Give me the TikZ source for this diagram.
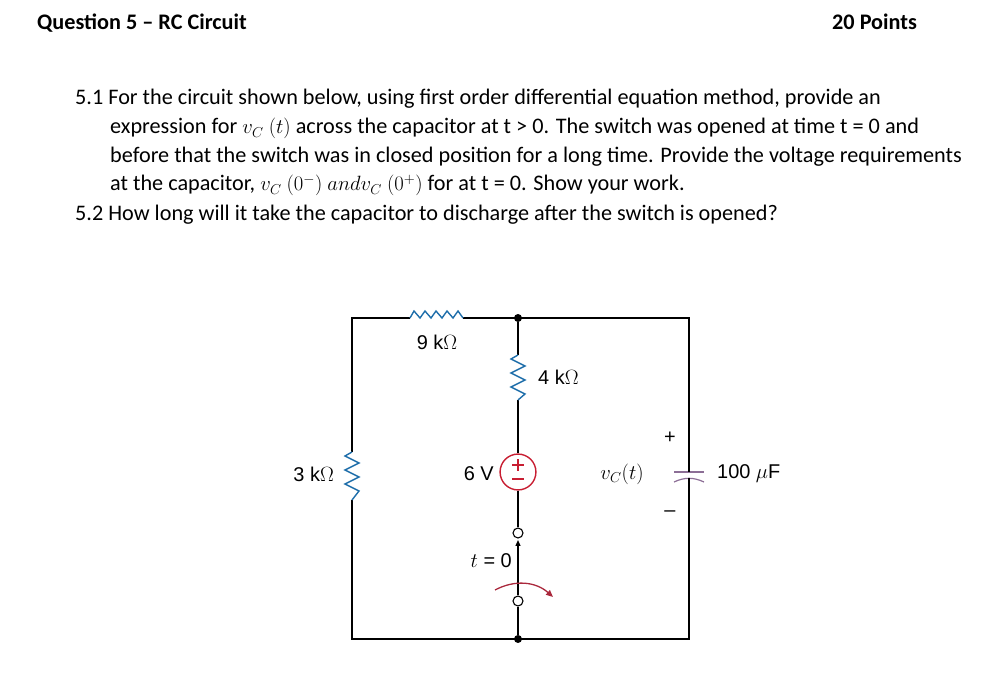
\documentclass[tikz,border=0pt]{standalone}
\usepackage{fontspec}
\setmainfont{Carlito}
\newfontfamily\arl{Liberation Sans}
\usetikzlibrary{arrows.meta}
\definecolor{resb}{RGB}{30,110,170}
\definecolor{srcr}{RGB}{200,30,50}
\definecolor{capp}{RGB}{140,110,150}
\definecolor{arrr}{RGB}{170,40,60}
\tikzset{
  txt/.style={anchor=base west,inner sep=0,font=\fontsize{22.3}{24}\selectfont},
  hdr/.style={anchor=base west,inner sep=0,font=\fontsize{22.3}{24}\selectfont\bfseries},
  lab/.style={inner sep=0,font=\arl\fontsize{20}{22}\selectfont},
  wire/.style={line width=1.3pt,black},
  res/.style={line width=1.4pt,resb},
  dot/.style={circle,fill=black,inner sep=0,minimum size=8pt},
  term/.style={circle,draw,fill=white,line width=1.1pt,inner sep=0,minimum size=10pt},
}
\begin{document}
\begin{tikzpicture}[x=1bp,y=-1bp]
\useasboundingbox (0,0) rectangle (991,684);
\node[hdr] (h1) at (37,30) {Question 5 – RC Circuit};
\node[hdr] (h2) at (832,30) {20 Points};
\node[txt] (l1) at (75,105) {5.1 For the circuit shown below, using first order differential equation method, provide an};
\node[txt] (l2) at (110,134) {expression for $v_C\ (t)$ across the capacitor at t > 0. The switch was opened at time t = 0 and};
\node[txt] (l3) at (110,163) {before that the switch was in closed position for a long time. Provide the voltage requirements};
\node[txt] (l4) at (110,191) {at the capacitor, $v_C\ (0^-)\ and v_C\ (0^+)$ for at t = 0. Show your work.};
\node[txt] (l5) at (75,220) {5.2 How long will it take the capacitor to discharge after the switch is opened?};
% nodes
\coordinate (TL) at (352,318); \coordinate (TR) at (689,318);
\coordinate (BL) at (352,639); \coordinate (BR) at (689,639);
\node[dot] (TM) at (518,318) {};
\node[dot] (BM) at (518,639) {};
\node[circle,draw=srcr,line width=1.4pt,minimum size=36pt,inner sep=0] (V) at (518,472) {};
\node[term] (S1) at (518,533) {};
\node[term] (S2) at (518,601) {};
% wires
\draw[wire] (TL) -- (TR) -- (BR) -- (BL) -- (TL) -- cycle;
\draw[wire] (TM) -- (V.north);
\draw[wire] (V.south) -- (S1.north);
\draw[wire] (S2.south) -- (BM);
% resistors (cover wire)
\fill[white] (410,312) rectangle (463,324);
\draw[res] (410,318) -- (414,311) -- (420,318)--(425,311)--(431,318)--(436,311)--(442,318)--(447,311)--(453,318)--(458,311)--(463,318);
\fill[white] (511,355) rectangle (525,400);
\draw[res] (518,355)--(511,359)--(525,366)--(511,373)--(525,380)--(511,387)--(525,394)--(518,400);
\fill[white] (345,452) rectangle (359,500);
\draw[res] (352,452)--(345,456)--(359,463)--(345,470)--(359,477)--(345,484)--(359,491)--(352,500);
% source signs
\draw[srcr,line width=1.1pt] (512,465)--(524,465) (518,459)--(518,471) (512,479)--(524,479);
% switch
\draw[wire,-{Triangle[length=6pt,width=5pt]}] (S2.north) -- (518,540);
\draw[arrr,line width=1.3pt,-{Triangle[length=7pt,width=6pt]}] (495,590) to[bend left=35] (553,597);
% capacitor
\fill[white] (672,468) rectangle (706,482);
\draw[capp,line width=1.2pt] (674,472)--(704,472);
\draw[capp,line width=1.2pt] (674,482) to[bend left=25] (704,482);
\draw[wire] (689,318)--(689,472) (689,478)--(689,639);
% labels
\node[lab] (r9) at (437,342) {9 k$\Omega$};
\node[lab,anchor=west] (r4) at (538,377) {4 k$\Omega$};
\node[lab,anchor=east] (r3) at (334,474) {3 k$\Omega$};
\node[lab,anchor=east] (v6) at (494,474) {6 V};
\node[lab,anchor=east] (t0) at (512,561) {$t$ = 0};
\node[inner sep=0,font=\fontsize{22}{24}\selectfont] (vc) at (622,474) {$v_C(t)$};
\node[lab] (pl) at (670,438) {+};
\node[lab] (mi) at (670,514) {\textendash};
\node[lab,anchor=west] (c1) at (717,474) {100 $\mu$F};
\end{tikzpicture}
\end{document}
